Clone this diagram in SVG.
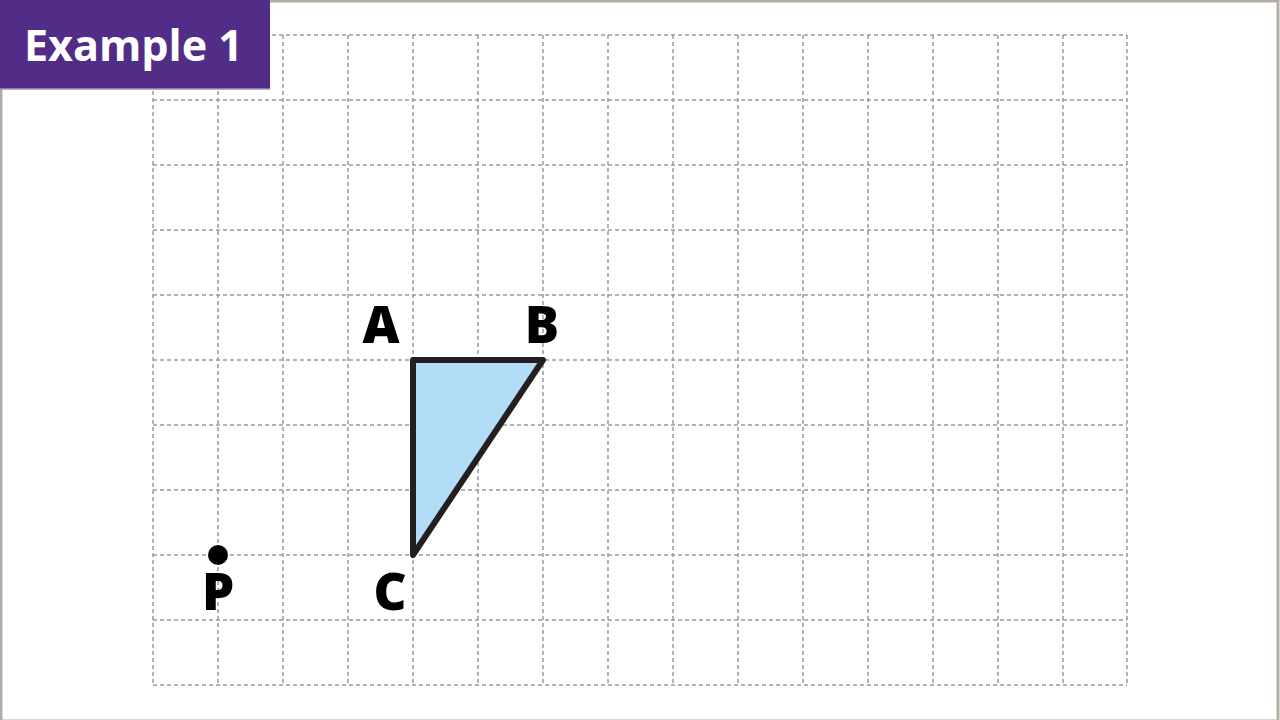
<svg xmlns="http://www.w3.org/2000/svg" width="1280" height="720" viewBox="0 0 1280 720">
<style>
.g{stroke:#9a9a9a;stroke-width:1.5;stroke-dasharray:4 3;fill:none}
.lbl{font-family:"Open Sans","Liberation Sans",sans-serif;font-weight:800;font-size:51px;fill:#000;text-anchor:middle}
</style>
<rect x="0" y="0" width="1280" height="720" fill="#fff"/>
<rect x="1" y="1" width="1277" height="720" fill="none" stroke="#b5ada3" stroke-width="3"/>
<g id="grid">
<path class="g" d="M153 35H1127M153 100H1127M153 165H1127M153 230H1127M153 295H1127M153 360H1127M153 425H1127M153 490H1127M153 555H1127M153 620H1127M153 685H1127"/>
<path class="g" d="M153 35V685M218 35V685M283 35V685M348 35V685M413 35V685M478 35V685M543 35V685M608 35V685M673 35V685M738 35V685M803 35V685M868 35V685M933 35V685M998 35V685M1063 35V685M1127 35V685"/>
</g>
<g id="title">
<rect x="0" y="0" width="270" height="89" fill="#512d87"/>
<line x1="0" y1="89" x2="270" y2="89" stroke="#a58fc4" stroke-width="1.5"/>
<text x="24" y="61" font-family="Open Sans,Liberation Sans,sans-serif" font-weight="bold" font-size="43" fill="#fff" textLength="219" lengthAdjust="spacingAndGlyphs">Example 1</text>
</g>
<g id="triangle">
<polygon points="413,360 543,360 413,555" fill="#b3ddf7" stroke="#231f20" stroke-width="6" stroke-linejoin="round"/>
</g>
<g id="point-P">
<circle cx="218" cy="555" r="10" fill="#000"/>
<text class="lbl" x="218" y="610">P</text>
</g>
<g id="labels">
<text class="lbl" x="381" y="343">A</text>
<text class="lbl" x="542" y="343">B</text>
<text class="lbl" x="390" y="610">C</text>
</g>
</svg>
